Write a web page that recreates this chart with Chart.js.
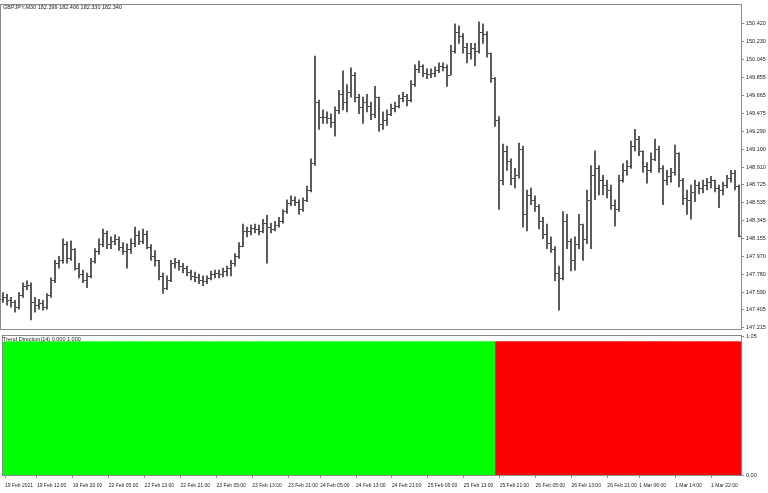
<!DOCTYPE html>
<html><head><meta charset="utf-8">
<script src="https://cdn.jsdelivr.net/npm/chart.js@4"></script>
<style>
html,body{margin:0;padding:0;background:#fff;}
#wrap{position:relative;width:768px;height:493px;overflow:hidden;background:#fff;}
#c1{position:absolute;left:0;top:0;}
#c2{position:absolute;left:0;top:328px;}
.lbl{position:absolute;font-family:"Liberation Sans",Arial,sans-serif;font-size:5.5px;line-height:6px;color:#222;white-space:nowrap;}
</style></head><body>
<div id="wrap">
<canvas id="c1" width="768" height="335" style="width:768px;height:335px"></canvas>
<canvas id="c2" width="768" height="165" style="width:768px;height:165px"></canvas>
<div class="lbl" style="left:3px;top:4px">GBPJPY,M30 182.399 182.406 182.330 182.340</div>
<div class="lbl" style="left:3px;top:336px">Trend Direction(14) 0.000 1.000</div>
</div>
<script>
// ---- data (price bars, M30 sampled) ----
const opens = [
147.514,147.535,147.504,147.483,147.432,147.556,147.659,147.669,147.483,147.453,
147.473,147.432,147.556,147.720,147.895,147.926,148.101,147.947,148.050,147.844,
147.782,147.720,147.761,147.916,148.029,148.101,148.215,148.101,148.132,148.153,
148.070,148.029,148.050,148.112,148.194,148.132,148.204,148.070,147.968,147.926,
147.761,147.638,147.720,147.895,147.906,147.864,147.844,147.802,147.761,147.751,
147.720,147.710,147.741,147.782,147.792,147.782,147.813,147.844,147.895,147.968,
148.081,148.235,148.235,148.266,148.256,148.235,148.318,148.276,148.256,148.297,
148.338,148.441,148.534,148.565,148.544,148.462,148.565,148.668,148.956,149.596,
149.441,149.441,149.431,149.389,149.513,149.678,149.596,149.699,149.884,149.647,
149.544,149.596,149.554,149.472,149.647,149.369,149.410,149.472,149.534,149.554,
149.637,149.657,149.617,149.781,149.946,149.977,149.905,149.895,149.905,149.936,
149.977,149.967,149.884,150.132,150.338,150.296,150.173,150.111,150.163,150.132,
150.338,150.317,150.111,149.853,149.410,148.771,149.080,148.977,148.792,148.823,
149.101,148.410,148.616,148.565,148.503,148.338,148.204,148.112,148.050,147.792,
147.741,148.338,148.132,147.926,148.101,148.307,148.153,148.565,148.823,148.895,
148.771,148.720,148.668,148.513,148.462,148.771,148.874,148.926,149.132,149.204,
149.080,148.926,148.874,148.997,149.101,148.895,148.771,148.812,148.853,149.060,
148.771,148.585,148.565,148.647,148.720,148.689,148.720,148.751,148.771,148.689,
148.668,148.720,148.792,148.843,148.709];
const highs = [
147.586,147.566,147.535,147.504,147.586,147.689,147.710,147.689,147.535,147.514,
147.504,147.576,147.741,147.926,147.968,148.153,148.122,148.132,148.050,147.895,
147.823,147.792,147.947,148.050,148.153,148.256,148.235,148.174,148.194,148.174,
148.112,148.101,148.153,148.276,148.235,148.256,148.235,148.091,148.029,147.926,
147.792,147.761,147.926,147.947,147.926,147.895,147.864,147.823,147.802,147.782,
147.761,147.761,147.813,147.823,147.823,147.844,147.864,147.926,147.998,148.112,
148.307,148.276,148.297,148.307,148.297,148.359,148.400,148.318,148.338,148.379,
148.462,148.565,148.606,148.596,148.565,148.585,148.709,148.997,150.080,149.617,
149.513,149.492,149.472,149.544,149.719,149.925,149.781,149.956,149.905,149.678,
149.647,149.678,149.596,149.760,149.647,149.492,149.513,149.575,149.596,149.668,
149.699,149.678,149.822,149.987,150.028,149.987,149.946,149.946,149.967,150.008,
150.008,149.987,150.193,150.420,150.399,150.317,150.214,150.214,150.214,150.441,
150.420,150.338,150.111,149.853,149.441,149.152,149.132,148.997,148.895,149.163,
149.132,148.668,148.689,148.606,148.513,148.379,148.307,148.174,148.070,147.864,
148.441,148.410,148.153,148.174,148.410,148.307,148.668,148.926,149.080,148.926,
148.823,148.771,148.720,148.565,148.823,148.946,148.977,149.183,149.307,149.235,
149.080,148.956,149.060,149.204,149.132,148.926,148.874,148.895,149.142,149.060,
148.792,148.668,148.720,148.771,148.751,148.771,148.792,148.812,148.771,148.720,
148.751,148.823,148.874,148.874,148.720];
const lows = [
147.483,147.453,147.432,147.380,147.411,147.535,147.617,147.298,147.380,147.411,
147.401,147.411,147.535,147.689,147.844,147.895,147.895,147.926,147.823,147.741,
147.689,147.638,147.741,147.895,147.988,148.070,148.050,148.050,148.091,148.029,
147.988,147.844,147.998,148.070,148.091,148.101,148.050,147.926,147.864,147.720,
147.576,147.617,147.700,147.844,147.823,147.792,147.761,147.720,147.700,147.679,
147.659,147.679,147.720,147.741,147.741,147.751,147.761,147.761,147.864,147.947,
148.070,148.174,148.194,148.215,148.194,148.215,147.895,148.215,148.235,148.276,
148.318,148.421,148.503,148.503,148.410,148.441,148.544,148.647,148.926,149.307,
149.369,149.369,149.328,149.235,149.472,149.513,149.492,149.647,149.596,149.472,
149.369,149.492,149.410,149.431,149.286,149.307,149.348,149.451,149.492,149.534,
149.596,149.554,149.596,149.760,149.905,149.864,149.843,149.853,149.864,149.905,
149.925,149.760,149.884,150.111,150.214,150.111,150.008,150.049,149.977,150.111,
150.214,150.070,149.802,149.338,148.462,148.720,148.874,148.720,148.689,148.792,
148.276,148.235,148.513,148.441,148.256,148.153,148.050,148.009,147.710,147.401,
147.720,148.050,147.813,147.823,148.050,147.926,148.101,148.050,148.565,148.616,
148.616,148.585,148.462,148.287,148.441,148.751,148.823,148.895,149.080,149.029,
148.853,148.740,148.853,148.977,148.853,148.513,148.720,148.751,148.823,148.699,
148.513,148.410,148.359,148.544,148.627,148.637,148.668,148.689,148.647,148.482,
148.616,148.689,148.751,148.668,148.174];
const closes = [
147.535,147.504,147.483,147.432,147.556,147.659,147.669,147.483,147.453,147.473,
147.432,147.556,147.720,147.895,147.926,148.101,147.947,148.050,147.844,147.782,
147.720,147.761,147.916,148.029,148.101,148.215,148.101,148.132,148.153,148.070,
148.029,148.050,148.112,148.194,148.132,148.204,148.070,147.968,147.926,147.761,
147.638,147.720,147.895,147.906,147.864,147.844,147.802,147.761,147.751,147.720,
147.710,147.741,147.782,147.792,147.782,147.813,147.844,147.895,147.968,148.081,
148.235,148.235,148.266,148.256,148.235,148.318,148.276,148.256,148.297,148.338,
148.441,148.534,148.565,148.544,148.462,148.565,148.668,148.956,149.596,149.441,
149.441,149.431,149.389,149.513,149.678,149.596,149.699,149.884,149.647,149.544,
149.596,149.554,149.472,149.647,149.369,149.410,149.472,149.534,149.554,149.637,
149.657,149.617,149.781,149.946,149.977,149.905,149.895,149.905,149.936,149.977,
149.967,149.884,150.132,150.338,150.296,150.173,150.111,150.163,150.132,150.338,
150.317,150.111,149.853,149.410,148.771,149.080,148.977,148.792,148.823,149.101,
148.410,148.616,148.565,148.503,148.338,148.204,148.112,148.050,147.792,147.741,
148.338,148.132,147.926,148.101,148.307,148.153,148.565,148.823,148.895,148.771,
148.720,148.668,148.513,148.462,148.771,148.874,148.926,149.132,149.204,149.080,
148.926,148.874,148.997,149.101,148.895,148.771,148.812,148.853,149.060,148.771,
148.585,148.565,148.647,148.720,148.689,148.720,148.751,148.771,148.689,148.668,
148.720,148.792,148.843,148.709,148.184];
// Trend Direction(14): 1 = up (green), -1 = down (red)
const trendDir = [
1,1,1,1,1,1,1,1,1,1, 1,1,1,1,1,1,1,1,1,1, 1,1,1,1,1,1,1,1,1,1,
1,1,1,1,1,1,1,1,1,1, 1,1,1,1,1,1,1,1,1,1, 1,1,1,1,1,1,1,1,1,1,
1,1,1,1,1,1,1,1,1,1, 1,1,1,1,1,1,1,1,1,1, 1,1,1,1,1,1,1,1,1,1,
1,1,1,1,1,1,1,1,1,1, 1,1,1,1,1,1,1,1,1,1, 1,1,1,1,1,1,1,1,1,1,
1,1,1,-1,-1,-1,-1,-1,-1,-1, -1,-1,-1,-1,-1,-1,-1,-1,-1,-1,
-1,-1,-1,-1,-1,-1,-1,-1,-1,-1, -1,-1,-1,-1,-1,-1,-1,-1,-1,-1,
-1,-1,-1,-1,-1,-1,-1,-1,-1,-1, -1,-1,-1,-1,-1,-1,-1,-1,-1,-1,
-1,-1,-1,-1,-1];
// price axis tick labels
const priceTicks = [150.420,150.230,150.045,149.855,149.665,149.475,149.290,149.100,148.910,148.725,148.535,148.345,148.155,147.970,147.780,147.590,147.405,147.215];
const indTicks = [1.05, 0.00];
// time axis labels and the bar they sit on
const timeLabels = ["19 Feb 2021","19 Feb 12:00","19 Feb 20:00","22 Feb 05:00","22 Feb 13:00","22 Feb 21:00","23 Feb 05:00","23 Feb 13:00","23 Feb 21:00","24 Feb 05:00","24 Feb 13:00","24 Feb 21:00","25 Feb 05:00","25 Feb 13:00","25 Feb 21:00","26 Feb 05:00","26 Feb 13:00","26 Feb 21:00","1 Mar 06:00","1 Mar 14:00","1 Mar 22:00"];
const timeLabelBars = [0,8,17,26,35,44,53,62,71,79,88,97,106,115,124,133,142,151,159,168,177];

const categories = closes.map((_, i) => i);
const BAR = '#3a3a3a';
const FRAME = '#8a8a8a';
const FONT = 'Liberation Sans, Arial, sans-serif';

const framePlugin = {
  id: 'frame',
  afterDraw(chart) {
    const {ctx, chartArea: a} = chart;
    ctx.save();
    ctx.strokeStyle = FRAME; ctx.lineWidth = 1;
    ctx.strokeRect(Math.round(a.left) - 0.5, Math.round(a.top) - 0.5,
                   Math.round(a.right - a.left) + 1, Math.round(a.bottom - a.top) + 1);
    ctx.restore();
  }
};
const ohlcTicks = {
  id: 'ohlcTicks',
  afterDatasetsDraw(chart) {
    const {ctx} = chart; const xs = chart.scales.x, ys = chart.scales.y;
    ctx.save();
    ctx.strokeStyle = BAR; ctx.lineWidth = 1;
    ctx.beginPath();
    for (let i = 0; i < closes.length; i++) {
      const px = Math.round(xs.getPixelForValue(i));
      const yo = Math.round(ys.getPixelForValue(opens[i])) + 0.5;
      const yc = Math.round(ys.getPixelForValue(closes[i])) + 0.5;
      ctx.moveTo(px - 1.5, yo); ctx.lineTo(px, yo);
      ctx.moveTo(px + 1, yc); ctx.lineTo(px + 2.5, yc);
    }
    ctx.stroke();
    ctx.restore();
  }
};

Chart.defaults.animation = false;

new Chart(document.getElementById('c1'), {
  type: 'bar',
  data: {
    labels: categories,
    datasets: [{
      data: highs.map((h, i) => [lows[i], h]),
      backgroundColor: BAR, borderWidth: 0,
      barThickness: 1, grouped: false
    }]
  },
  options: {
    responsive: false, animation: false,
    layout: {padding: {left: 1, top: 1, right: 0, bottom: 2}},
    plugins: {legend: {display: false}, tooltip: {enabled: false}},
    scales: {
      x: {display: false, offset: true},
      y: {
        position: 'right', min: 147.194, max: 150.616,
        afterFit(s) { s.width = 27; },
        afterBuildTicks(s) { s.ticks = priceTicks.map(v => ({value: v})); },
        ticks: {callback: v => Number(v).toFixed(3), font: {size: 5.5, family: FONT}, color: '#222', padding: 2},
        grid: {drawOnChartArea: false, drawTicks: true, tickLength: 3, color: FRAME},
        border: {display: true, color: FRAME}
      }
    }
  },
  plugins: [framePlugin, ohlcTicks]
});

new Chart(document.getElementById('c2'), {
  type: 'bar',
  data: {
    labels: categories,
    datasets: [
      {data: trendDir.map(d => d === 1 ? 1 : null), backgroundColor: '#00ff00', borderWidth: 0, barPercentage: 1.3, categoryPercentage: 1, grouped: false, inflateAmount: 1},
      {data: trendDir.map(d => d === -1 ? 1 : null), backgroundColor: '#ff0000', borderWidth: 0, barPercentage: 1.3, categoryPercentage: 1, grouped: false, inflateAmount: 1}
    ]
  },
  options: {
    responsive: false, animation: false,
    layout: {padding: {left: 1, top: 8, right: 0, bottom: 0}},
    plugins: {legend: {display: false}, tooltip: {enabled: false}},
    scales: {
      x: {
        offset: true,
        afterFit(s) { s.height = 18; },
        afterBuildTicks(s) { s.ticks = timeLabelBars.map(v => ({value: v})); },
        ticks: {
          autoSkip: false, maxRotation: 0, minRotation: 0, align: 'start', padding: 5,
          callback: (v) => timeLabels[timeLabelBars.indexOf(v)],
          font: {size: 5, family: FONT}, color: '#222'
        },
        grid: {drawOnChartArea: false, drawTicks: true, tickLength: 3, color: FRAME, offset: false},
        border: {display: true, color: FRAME}
      },
      y: {
        position: 'right', min: 0, max: 1.05,
        afterFit(s) { s.width = 27; },
        afterBuildTicks(s) { s.ticks = indTicks.map(v => ({value: v})); },
        ticks: {callback: v => Number(v).toFixed(2), font: {size: 5.5, family: FONT}, color: '#222', padding: 2},
        grid: {drawOnChartArea: false, drawTicks: true, tickLength: 3, color: FRAME},
        border: {display: true, color: FRAME}
      }
    }
  },
  plugins: [framePlugin]
});
</script>
</body></html>
